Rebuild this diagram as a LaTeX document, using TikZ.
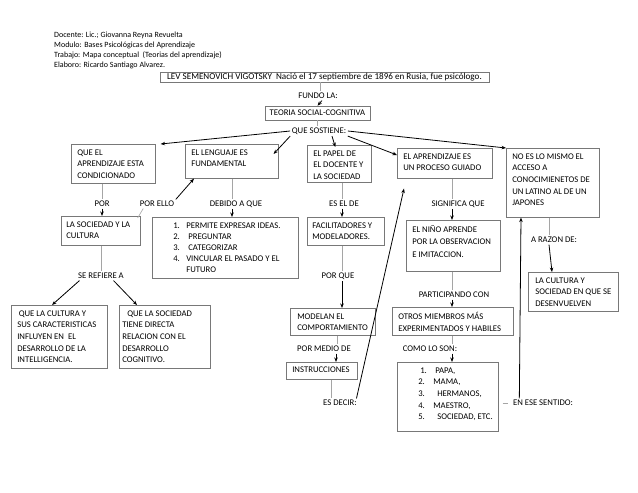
\documentclass[tikz,border=0pt]{standalone}
\usepackage{fontspec}
\setmainfont{Carlito}
\usepackage{tikz}
\usetikzlibrary{arrows.meta}
\definecolor{boxgray}{RGB}{120,120,120}
\definecolor{linegray}{RGB}{165,165,165}
\newcommand{\fsz}{\fontsize{8.7}{11.6}\selectfont}
\newcommand{\bxt}[3]{\parbox[t][#2][t]{#1}{\raggedright\rule{0pt}{6pt}#3}}
\newcommand{\itm}[3]{\mbox{\hspace*{15pt}\makebox[#1][l]{#2}#3}}
\tikzset{
  cbox/.style={draw=boxgray, line width=0.6pt, anchor=north west, inner xsep=6pt, inner ysep=5pt, font=\fsz},
  lbl/.style={font=\fsz, inner sep=1.5pt},
  head/.style={font=\fontsize{8}{10}\selectfont, anchor=west, inner sep=0pt},
  conn/.style={draw=linegray, line width=0.6pt},
  arr/.style={draw=black, line width=0.8pt, -{Stealth[length=4.5pt,width=3.5pt]}}
}

\begin{document}
\begin{tikzpicture}[x=1pt,y=-1pt]
\useasboundingbox[fill=white] (0,0) rectangle (638,493);

\node[head] (hDoc) at (54,35) {Docente: Lic.; Giovanna Reyna Revuelta};
\node[head] (hMod) at (54,45) {Modulo: Bases Psicológicas del Aprendizaje};
\node[head] (hTrab) at (54,55) {Trabajo: Mapa conceptual\ \ (Teorias del aprendizaje)};
\node[head] (hElab) at (54,65) {Elaboro: Ricardo Santiago Alvarez.};

\node[draw=boxgray, line width=0.6pt, minimum width=329pt, minimum height=10pt, inner sep=0pt, font=\fontsize{9.1}{11}\selectfont] (b0) at (324.5,77) {LEV SEMENOVICH VIGOTSKY\ \ Nació el 17 septiembre de 1896 en Rusia, fue psicólogo.};
\node[lbl] (lbFundo) at (318,96) {FUNDO LA:};
\node[draw=boxgray, line width=0.6pt, minimum width=105pt, minimum height=14pt, inner sep=0pt, font=\fsz] (bT) at (317.5,113) {TEORIA SOCIAL-COGNITIVA};
\node[lbl] (lbSost) at (319,131) {QUE SOSTIENE:};

% first row
\node[cbox] (b1) at (71,144) {\bxt{72pt}{29pt}{QUE EL\\APRENDIZAJE ESTA\\CONDICIONADO}};
\node[cbox] (b2) at (185,144) {\bxt{81pt}{24pt}{EL LENGUAJE ES\\FUNDAMENTAL}};
\node[cbox] (b3) at (307,145) {\bxt{52pt}{27pt}{EL PAPEL DE\\EL DOCENTE Y\\LA SOCIEDAD}};
\node[cbox] (b4) at (397,148) {\bxt{83pt}{20pt}{EL APRENDIZAJE ES\\UN PROCESO GUIADO}};
\node[cbox] (b5) at (506,148) {\bxt{81pt}{59pt}{NO ES LO MISMO EL\\ACCESO A\\CONOCIMIENETOS DE\\UN LATINO AL DE UN\\JAPONES}};

\node[lbl] (lbPor) at (102,204) {POR};
\node[lbl] (lbEllo) at (157,204) {POR ELLO};
\node[lbl] (lbDeb) at (236,204) {DEBIDO A QUE};
\node[lbl] (lbEsel) at (344,204) {ES EL DE};
\node[lbl] (lbSig) at (458,204) {SIGNIFICA QUE};
\node[lbl] (lbRazon) at (554,240) {A RAZON DE:};

% second row
\node[cbox, inner xsep=5pt] (b6) at (61,216) {\bxt{69pt}{19pt}{LA SOCIEDAD Y LA\\CULTURA}};
\node[cbox] (b7) at (152,217) {\bxt{134pt}{51pt}{\fontsize{8.7}{11}\selectfont
  \itm{13pt}{1.}{PERMITE EXPRESAR IDEAS.}\\
  \itm{13pt}{2.}{\hspace{2pt}PREGUNTAR}\\
  \itm{13pt}{3.}{\hspace{2pt}CATEGORIZAR}\\
  \itm{13pt}{4.}{VINCULAR EL PASADO Y EL}\\
  \itm{13pt}{}{FUTURO}}};
\node[cbox, inner xsep=5pt] (b8) at (307,217) {\bxt{67pt}{18pt}{FACILITADORES Y\\MODELADORES.}};
\node[cbox] (b9) at (406,220) {\bxt{82pt}{41pt}{\fontsize{8.7}{12.4}\selectfont EL NIÑO APRENDE\\POR LA OBSERVACION\\E IMITACCION.}};
\node[cbox, inner xsep=7pt] (b10) at (528,272) {\bxt{76pt}{29pt}{LA CULTURA Y\\SOCIEDAD EN QUE SE\\DESENVUELVEN}};

\node[lbl] (lbRef) at (101,276) {SE REFIERE A};
\node[lbl] (lbPque) at (338,276) {POR QUE};
\node[lbl] (lbPart) at (454,295) {PARTICIPANDO CON};

% third row
\node[cbox] (b11) at (11,305) {\bxt{84pt}{53pt}{\hspace{1.5pt}QUE LA CULTURA Y\\SUS CARACTERISTICAS\\INFLUYEN EN\ \ EL\\DESARROLLO DE LA\\INTELLIGENCIA.}};
\node[cbox, inner xsep=3pt] (b12) at (119,305) {\bxt{85pt}{53pt}{\hspace{5pt}QUE LA SOCIEDAD\\TIENE DIRECTA\\RELACION CON EL\\DESARROLLO\\COGNITIVO.}};
\node[cbox, inner xsep=7pt] (b13) at (290,308) {\bxt{71pt}{17pt}{MODELAN EL\\COMPORTAMIENTO}};
\node[cbox] (b15) at (392,307) {\bxt{109pt}{18pt}{OTROS MIEMBROS MÁS\\EXPERIMENTADOS Y HABILES}};

\node[lbl] (lbMedio) at (324,349) {POR MEDIO DE};
\node[lbl] (lbComo) at (430,349) {COMO LO SON:};

\node[cbox, inner ysep=4pt] (b14) at (286,362) {\bxt{59pt}{9pt}{INSTRUCCIONES}};
\node[cbox] (b16) at (397,362) {\bxt{89pt}{59pt}{
  \itm{15pt}{1.}{PAPA,}\\
  \itm{15pt}{2.}{MAMA,}\\
  \itm{15pt}{3.}{\hspace{4pt}HERMANOS,}\\
  \itm{15pt}{4.}{MAESTRO,}\\
  \itm{15pt}{5.}{\hspace{4pt}SOCIEDAD, ETC.}}};

\node[lbl] (lbDecir) at (340,403) {ES DECIR:};
\node[lbl] (lbSent) at (543,403) {EN ESE SENTIDO:};

% connectors
\draw[conn] ([xshift=-4.5pt]b0.south) -- ([xshift=-4.5pt]b0.south |- lbFundo.north);
\draw[arr] ([xshift=4pt]lbFundo.south) -- (bT.north);
\draw[conn] (bT.south) -- (bT.south |- lbSost.north);

\draw[arr] (lbSost.west) -- ([xshift=5pt]b1.north east);
\draw[arr] (lbSost.south west) -- ([xshift=-5pt,yshift=-10pt]b2.north east);
\draw[arr] ([xshift=13pt]lbSost.south) -- ([xshift=-4pt,yshift=-2pt]b3.north);
\draw[arr] (lbSost.south east) -- ([yshift=-7pt]b4.north west);
\draw[arr] (lbSost.east) -- (b5.north west);

\draw[conn] (lbPor.north |- b1.south) -- (lbPor.north);
\draw[arr] (lbPor.south) -- (lbPor.south |- b6.north);
\draw[conn] ([xshift=-3pt,yshift=-2pt]b6.north east) -- ([xshift=5pt]lbEllo.south west);
\draw[arr] (lbEllo.north east) -- ([xshift=9pt]b2.south west);
\draw[conn] ([xshift=-4pt]lbDeb.north |- b2.south) -- ([xshift=-4pt]lbDeb.north);
\draw[arr] ([xshift=-4pt]lbDeb.south) -- ([xshift=-4pt]lbDeb.south |- b7.north);
\draw[conn] ([xshift=-2pt]lbEsel.north |- b3.south) -- ([xshift=-2pt]lbEsel.north);
\draw[arr] ([xshift=-2pt]lbEsel.south) -- ([xshift=-2pt]lbEsel.south |- b8.north);
\draw[conn] ([xshift=-6pt]lbSig.north |- b4.south) -- ([xshift=-6pt]lbSig.north);
\draw[arr] ([xshift=-6pt]lbSig.south) -- ([xshift=-6pt]lbSig.south |- b9.north);
\draw[conn] ([xshift=-5pt]lbRazon.north |- b5.south) -- ([xshift=-5pt]lbRazon.north);
\draw[arr] ([xshift=-5pt]lbRazon.south) -- ([xshift=-2pt]lbRazon.south |- b10.north);

\draw[conn] (lbRef.north |- b6.south) -- (lbRef.north);
\draw[arr] ([xshift=3pt]lbRef.south west) -- ([xshift=41pt]b11.north west);
\draw[arr] ([xshift=-12pt]lbRef.south east) -- ([xshift=18pt]b12.north west);

\draw[conn] ([xshift=4pt]lbPque.north |- b8.south) -- ([xshift=4pt]lbPque.north);
\draw[arr] ([xshift=4pt]lbPque.south) -- ([xshift=4pt]lbPque.south |- b13.north);
\draw[conn] ([xshift=13pt]lbMedio.north |- b13.south) -- ([xshift=13pt]lbMedio.north);
\draw[arr] ([xshift=12pt]lbMedio.south) -- ([xshift=12pt]lbMedio.south |- b14.north);
\draw[conn] ([xshift=-9pt]lbDecir.north |- b14.south) -- ([xshift=-9pt]lbDecir.north);
\draw[arr] ([xshift=-2pt]lbDecir.north east) -- ([xshift=7pt,yshift=-10pt]b4.south west);

\draw[conn] ([xshift=-2pt]lbPart.north |- b9.south) -- ([xshift=-2pt]lbPart.north);
\draw[arr] ([xshift=-2pt]lbPart.south) -- ([xshift=-2pt]lbPart.south |- b15.north);
\draw[conn] ([xshift=22pt]lbComo.north |- b15.south) -- ([xshift=22pt]lbComo.north);
\draw[arr] ([xshift=22pt]lbComo.south) -- ([xshift=22pt]lbComo.south |- b16.north);
\draw[conn] ([xshift=4pt]b16.east |- lbSent.west) -- ([xshift=-3pt]lbSent.west);
\draw[arr] ([xshift=8pt]lbSent.north west) -- ([xshift=15pt]b5.south west);

\end{tikzpicture}
\end{document}
